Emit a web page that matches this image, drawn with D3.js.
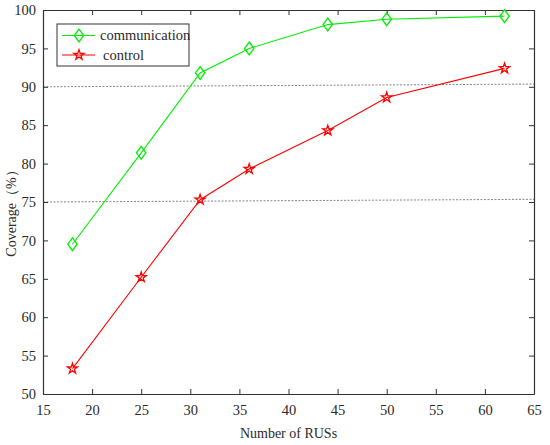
<!DOCTYPE html>
<html><head><meta charset="utf-8">
<script src="https://cdn.jsdelivr.net/npm/d3@7"></script>
<style>body{margin:0;background:#fff}svg{display:block}</style>
</head><body>
<svg id="c" width="550" height="445"></svg>
<script>
const rusCounts = [18, 25, 31, 36, 44, 50, 62];
const communication = [69.5, 81.4, 91.8, 95.0, 98.1, 98.8, 99.2];
const control = [53.3, 65.2, 75.3, 79.3, 84.3, 88.6, 92.4];
const xTicks = [15, 20, 25, 30, 35, 40, 45, 50, 55, 60, 65];
const yTicks = [50, 55, 60, 65, 70, 75, 80, 85, 90, 95, 100];
const refLines = [[90, 90.35], [75, 75.35]];
const seriesNames = ["communication", "control"];

const svg = d3.select("#c");
const L = 43, R = 534, T = 10, B = 394;
const x = d3.scaleLinear().domain([15, 65]).range([L, R]);
const y = d3.scaleLinear().domain([50, 100]).range([B, T]);
const font = "Liberation Serif, DejaVu Serif, serif";
const axisCol = "#333";
const textCol = "#2a2a2a";

svg.selectAll("line.ref").data(refLines).join("line")
  .attr("x1", x(15)).attr("x2", x(65))
  .attr("y1", d => y(d[0])).attr("y2", d => y(d[1]))
  .attr("stroke", "#666").attr("stroke-width", 0.8).attr("stroke-dasharray", "2,1.5");

const fmt = d3.format("d");
const gB = svg.append("g").attr("transform", `translate(0,${B})`)
  .call(d3.axisBottom(x).tickValues(xTicks).tickSizeInner(-5).tickSizeOuter(0).tickPadding(11).tickFormat(fmt));
const gT = svg.append("g").attr("transform", `translate(0,${T})`)
  .call(d3.axisTop(x).tickValues(xTicks).tickSizeInner(-5).tickSizeOuter(0).tickFormat(""));
const gL = svg.append("g").attr("transform", `translate(${L},0)`)
  .call(d3.axisLeft(y).tickValues(yTicks).tickSizeInner(-5).tickSizeOuter(0).tickPadding(7).tickFormat(fmt));
const gR = svg.append("g").attr("transform", `translate(${R},0)`)
  .call(d3.axisRight(y).tickValues(yTicks).tickSizeInner(-5).tickSizeOuter(0).tickFormat(""));
[gB, gT, gL, gR].forEach(g => {
  g.attr("font-family", null);
  g.selectAll("path.domain").attr("stroke", axisCol).attr("stroke-width", 1.2);
  g.selectAll(".tick line").attr("stroke", axisCol).attr("stroke-width", 1);
  g.selectAll(".tick text").attr("fill", textCol).attr("font-family", font).attr("font-size", 14.5);
});

const diamond = {draw(ctx) { ctx.moveTo(0, -6.4); ctx.lineTo(4.7, 0); ctx.lineTo(0, 6.4); ctx.lineTo(-4.7, 0); ctx.closePath(); }};
const series = [
  {name: seriesNames[0], values: communication, color: "#00ee00", sym: diamond, size: 64},
  {name: seriesNames[1], values: control, color: "#ff0000", sym: d3.symbolStar, size: 32}
];
const line = d3.line().x((d, i) => x(rusCounts[i])).y(d => y(d));
series.forEach(s => {
  svg.append("path").datum(s.values).attr("d", line)
    .attr("fill", "none").attr("stroke", s.color).attr("stroke-width", 1.1);
  svg.selectAll(null).data(s.values).join("path")
    .attr("transform", (d, i) => `translate(${x(rusCounts[i])},${y(d)})`)
    .attr("d", d3.symbol().type(s.sym).size(s.size))
    .attr("fill", "none").attr("stroke", s.color).attr("stroke-width", 1.3);
});

const lg = svg.append("g");
lg.append("rect").attr("x", 57).attr("y", 24).attr("width", 132).attr("height", 42)
  .attr("fill", "#fff").attr("stroke", axisCol).attr("stroke-width", 1);
series.forEach((s, i) => {
  const yy = 35.5 + i * 19.5;
  lg.append("line").attr("x1", 62).attr("x2", 95).attr("y1", yy).attr("y2", yy)
    .attr("stroke", s.color).attr("stroke-width", 1.1);
  lg.append("path").attr("transform", `translate(79,${yy})`)
    .attr("d", d3.symbol().type(s.sym).size(s.size))
    .attr("fill", "none").attr("stroke", s.color).attr("stroke-width", 1.3);
  lg.append("text").attr("x", i === 0 ? 100 : 103).attr("y", yy + 4.5)
    .text(s.name).attr("fill", textCol)
    .attr("font-family", font).attr("font-size", 14.5);
});

svg.append("text").attr("x", (L + R) / 2).attr("y", 438).attr("text-anchor", "middle")
  .text("Number of RUSs").attr("fill", textCol)
  .attr("font-family", font).attr("font-size", 14);
svg.append("text").attr("transform", `translate(16,${(T + B) / 2 + 8}) rotate(-90)`)
  .attr("text-anchor", "middle").text("Coverage（%）").attr("fill", textCol)
  .attr("font-family", font).attr("font-size", 14);
</script>
</body></html>
